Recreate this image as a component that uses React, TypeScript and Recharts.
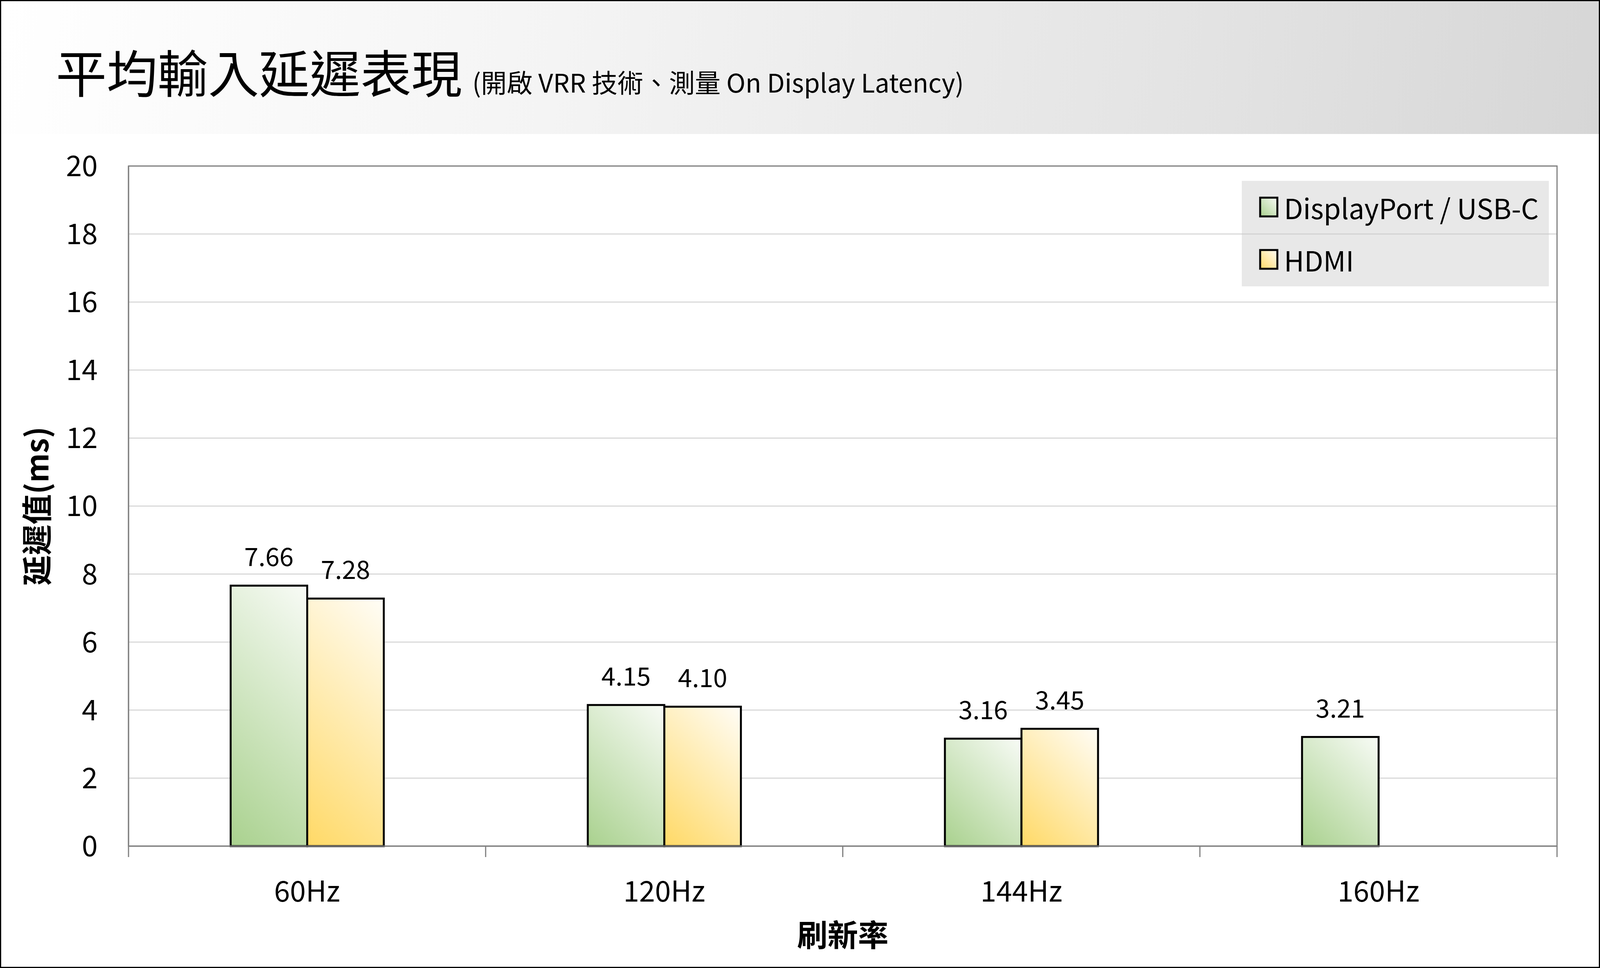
import React from 'react';
import {
  BarChart,
  Bar,
  XAxis,
  YAxis,
  CartesianGrid,
  LabelList,
  Legend,
  ReferenceArea,
} from 'recharts';

const categories = ['60Hz', '120Hz', '144Hz', '160Hz'];
const displayPortValues = [7.66, 4.15, 3.16, 3.21];
const hdmiValues: (number | null)[] = [7.28, 4.1, 3.45, null];
const yTicks = [0, 2, 4, 6, 8, 10, 12, 14, 16, 18, 20];
const seriesNames = ['DisplayPort / USB-C', 'HDMI'];

const titleMain = '平均輸入延遲表現';
const titleSub = '(開啟 VRR 技術、測量 On Display Latency)';
const yAxisTitle = '延遲值(ms)';
const xAxisTitle = '刷新率';

const data = categories.map((c, i) => ({
  name: c,
  dp: displayPortValues[i],
  hdmi: hdmiValues[i],
}));

const FONT = '"Noto Sans CJK TC", "Noto Sans", sans-serif';
// The browser viewport is 4096 px wide, so the layout is fitted to it.
const W = 4096;
const H = 2478;

const GREEN = ['#a9d18e', '#f8fbf6'];
const YELLOW = ['#ffd966', '#fffdf7'];

let gid = 0;
const makeShape = (colors: string[]) => (props: any) => {
  const { x, y, width, height } = props;
  if (width == null || height == null || !(height > 0)) return <g />;
  const id = `bg${gid++}`;
  const L = (width + height) / 2;
  return (
    <g>
      <defs>
        <linearGradient
          id={id}
          gradientUnits="userSpaceOnUse"
          x1={x}
          y1={y + height}
          x2={x + L}
          y2={y + height - L}
        >
          <stop offset="0%" stopColor={colors[0]} />
          <stop offset="100%" stopColor={colors[1]} />
        </linearGradient>
      </defs>
      <rect x={x} y={y} width={width} height={height} fill={`url(#${id})`} stroke="#000" strokeWidth={5} />
    </g>
  );
};

const XTick = (props: any) => {
  const { x, y, payload, index, visibleTicksCount } = props;
  const off = payload && typeof payload.offset === 'number' ? payload.offset : 457;
  const isLast = index === (visibleTicksCount ?? categories.length) - 1;
  return (
    <g>
      <line x1={x - off} x2={x - off} y1={y} y2={y + 28} stroke="#808080" strokeWidth={3} />
      {isLast && (
        <line x1={x + off} x2={x + off} y1={y} y2={y + 28} stroke="#808080" strokeWidth={3} />
      )}
      <text x={x} y={y + 116} dy="0.36em" textAnchor="middle" fontFamily={FONT} fontSize={73} fill="#000">
        {payload.value}
      </text>
    </g>
  );
};

const renderLegend = () => {
  const cols = [GREEN, YELLOW];
  return (
    <div
      style={{
        width: 786,
        height: 270,
        background: 'rgba(200,200,200,0.42)',
        boxSizing: 'border-box',
        paddingLeft: 44,
        fontFamily: FONT,
      }}
    >
      {seriesNames.map((n, i) => (
        <div key={n} style={{ display: 'flex', alignItems: 'center', height: 134, whiteSpace: 'nowrap' }}>
          <svg width={50} height={54} style={{ display: 'block', flex: 'none' }}>
            <defs>
              <linearGradient id={`leg${i}`} x1="0" y1="1" x2="1" y2="0">
                <stop offset="0%" stopColor={cols[i][0]} />
                <stop offset="100%" stopColor={cols[i][1]} />
              </linearGradient>
            </defs>
            <rect x={3} y={3} width={44} height={48} fill={`url(#leg${i})`} stroke="#000" strokeWidth={5} />
          </svg>
          <span style={{ fontSize: 71, marginLeft: 14, color: '#000', lineHeight: 1 }}>{n}</span>
        </div>
      ))}
    </div>
  );
};

export default function App() {
  return (
    <div style={{ position: 'relative', width: W, height: H, background: '#fff', fontFamily: FONT, overflow: 'hidden' }}>
      <style>{`body{margin:0;}`}</style>
      <div
        style={{
          position: 'absolute',
          left: 0,
          top: 0,
          width: W,
          height: 343,
          background: 'linear-gradient(100deg, #ffffff 0%, #f4f4f4 35%, #e3e3e3 75%, #d6d6d6 100%)',
        }}
      />
      <svg width={W} height={343} style={{ position: 'absolute', left: 0, top: 0 }}>
        <text x={143} y={237} fontFamily={FONT} fontSize={130} fill="#000">
          {titleMain}
          <tspan fontSize={66} dx={26}>
            {titleSub}
          </tspan>
        </text>
      </svg>
      <div style={{ position: 'absolute', left: 0, top: 0 }}>
        <BarChart
          width={W}
          height={H}
          data={data}
          margin={{ top: 425, right: 110, bottom: 112, left: 20 }}
          barCategoryGap="28.6%"
          barGap={0}
        >
          <CartesianGrid vertical={false} stroke="#d9d9d9" strokeWidth={3} />
          <ReferenceArea y1={0} y2={20} fill="none" stroke="#808080" strokeWidth={3} ifOverflow="visible" />
          <XAxis
            dataKey="name"
            height={200}
            axisLine={{ stroke: '#808080', strokeWidth: 3 }}
            tickLine={false}
            tickSize={0}
            tickMargin={0}
            tick={<XTick />}
            interval={0}
            label={{
              content: (p: any) => {
                const vb = p.viewBox || {};
                return (
                  <text x={vb.x + vb.width / 2} y={2423} textAnchor="middle" fontFamily={FONT} fontSize={78} fontWeight={700} fill="#000">
                    {xAxisTitle}
                  </text>
                );
              },
            }}
          />
          <YAxis
            domain={[0, 20]}
            ticks={yTicks}
            width={309}
            axisLine={{ stroke: '#808080', strokeWidth: 3 }}
            tickLine={false}
            tickSize={0}
            tickMargin={79}
            tick={{ fontFamily: FONT, fontSize: 73, fill: '#000' }}
            label={{
              content: (p: any) => {
                const vb = p.viewBox || {};
                const cy = vb.y + vb.height / 2;
                return (
                  <text x={96} y={cy} transform={`rotate(-90, 96, ${cy})`} textAnchor="middle" dy="0.36em" fontFamily={FONT} fontSize={78} fontWeight={700} fill="#000">
                    {yAxisTitle}
                  </text>
                );
              },
            }}
          />
          <Legend
            layout="horizontal"
            align="center"
            verticalAlign="middle"
            content={renderLegend}
            wrapperStyle={{ left: 3179, top: 463, width: 786, height: 270 }}
          />
          <Bar dataKey="dp" name={seriesNames[0]} fill={GREEN[0]} shape={makeShape(GREEN)} isAnimationActive={false}>
            <LabelList
              dataKey="dp"
              position="top"
              offset={50}
              formatter={(v: any) => (v == null ? '' : Number(v).toFixed(2))}
              style={{ fontFamily: FONT, fontSize: 65, fill: '#000' }}
            />
          </Bar>
          <Bar dataKey="hdmi" name={seriesNames[1]} fill={YELLOW[0]} shape={makeShape(YELLOW)} isAnimationActive={false}>
            <LabelList
              dataKey="hdmi"
              position="top"
              offset={50}
              formatter={(v: any) => (v == null ? '' : Number(v).toFixed(2))}
              style={{ fontFamily: FONT, fontSize: 65, fill: '#000' }}
            />
          </Bar>
        </BarChart>
      </div>
      <div
        style={{
          position: 'absolute',
          left: 0,
          top: 0,
          width: W,
          height: H,
          border: '3px solid #000',
          boxSizing: 'border-box',
          pointerEvents: 'none',
        }}
      />
    </div>
  );
}
